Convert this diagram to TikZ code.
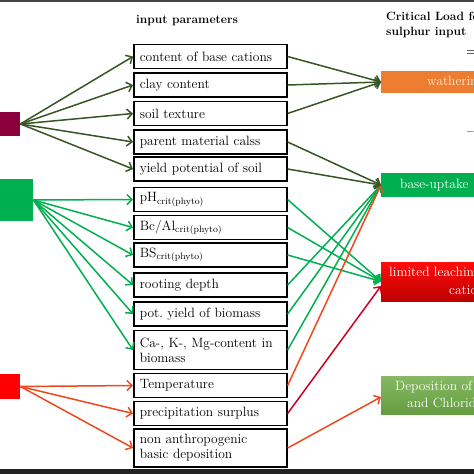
\documentclass[tikz,border=0pt]{standalone}
\usetikzlibrary{arrows.meta}
\definecolor{maroonc}{RGB}{139,0,58}
\definecolor{greenc}{RGB}{0,176,80}
\definecolor{redc}{RGB}{255,0,0}
\definecolor{olivec}{RGB}{55,86,35}
\definecolor{orangearr}{RGB}{240,72,30}
\definecolor{crimsonarr}{RGB}{205,0,30}
\definecolor{orangebox}{RGB}{237,125,49}
\definecolor{depgreen}{RGB}{112,173,71}
\definecolor{topbar}{RGB}{70,70,70}
\definecolor{botbar}{RGB}{35,35,35}
\frenchspacing
\begin{document}
\begin{tikzpicture}[x=1pt,y=-1pt,
  pbox/.style={draw=black, line width=1.6pt, fill=white, minimum width=153pt,
    minimum height=24pt, text width=141pt, inner xsep=6pt, inner ysep=1pt,
    align=left, anchor=west, font=\fontsize{13.5}{15}\selectfont},
  srcbox/.style={inner sep=0pt, anchor=west},
  rbox/.style={inner sep=0pt, anchor=west, minimum width=110pt},
  rtext/.style={inner sep=0pt, anchor=west, text=white, font=\fontsize{13.5}{15}\selectfont},
  arrbase/.style={line width=1.5pt, -{Straight Barb[length=5pt,width=10pt]}},
  arrA/.style={arrbase, draw=olivec},
  arrB/.style={arrbase, draw=greenc},
  arrC/.style={arrbase, draw=orangearr},
  arrD/.style={arrbase, draw=crimsonarr},
  heading/.style={inner sep=0pt, font=\fontsize{12}{14}\selectfont\bfseries}
]
\useasboundingbox (0,0) rectangle (474,474);
\clip (0,0) rectangle (474,474);
\fill[white] (0,0) rectangle (474,474);
\fill[topbar] (0,0) rectangle (474,2);
\fill[botbar] (0,469) rectangle (474,474);

% headings
\node[heading] (hin) at (187,21) {input parameters};
\node[heading, anchor=west] (hcl1) at (386,16) {Critical Load for};
\node[heading, anchor=west] (hcl2) at (386,32) {sulphur input};
\node[heading, anchor=west] (heq) at (466,53) {=};
\node[heading, anchor=west] (hmin) at (467,134) {--};

% source squares
\node[srcbox, fill=maroonc, minimum width=20pt, minimum height=24pt] (srcA) at (0,124) {};
\node[srcbox, fill=greenc, minimum width=33pt, minimum height=42pt] (srcB) at (0,200) {};
\node[srcbox, fill=redc, minimum width=20pt, minimum height=25pt] (srcC) at (0,386.5) {};

% input parameter boxes
\node[pbox] (p1) at (133,56.5) {content of base cations};
\node[pbox] (p2) at (133,85) {clay content};
\node[pbox] (p3) at (133,113.5) {soil texture};
\node[pbox] (p4) at (133,142) {parent material calss};
\node[pbox] (p5) at (133,169) {yield potential of soil};
\node[pbox] (p6) at (133,199.5) {pH\textsubscript{crit(phyto)}};
\node[pbox] (p7) at (133,227.5) {Bc/Al\textsubscript{crit(phyto)}};
\node[pbox] (p8) at (133,255) {BS\textsubscript{crit(phyto)}};
\node[pbox] (p9) at (133,285) {rooting depth};
\node[pbox] (p10) at (133,314) {pot. yield of biomass};
\node[pbox, minimum height=39pt] (p11) at (133,350) {Ca-, K-, Mg-content in\\biomass};
\node[pbox] (p12) at (133,385.5) {Temperature};
\node[pbox] (p13) at (133,413.5) {precipitation surplus};
\node[pbox, minimum height=38pt] (p14) at (133,448) {non anthropogenic\\basic deposition};

% right boxes
\node[rbox, fill=orangebox, minimum height=22pt] (wath) at (381,82) {};
\node[rbox, fill=greenc, minimum height=24pt] (upt) at (381,185) {};
\node[rbox, minimum height=39pt, top color=red!95!white, bottom color=red!75!black] (leach) at (381,281.5) {};
\node[rbox, minimum height=38pt, top color=depgreen!85!white, bottom color=depgreen!90!black] (dep) at (381,395) {};
\node[rtext, text=orange!15!white] (twath) at (427,82) {wathering};
\node[rtext] (tupt) at (400,185) {base-uptake};
\node[rtext] (tleach1) at (389,273) {limited leaching of base};
\node[rtext] (tleach2) at (449,290) {cations};
\node[rtext] (tdep1) at (395,387) {Deposition of};
\node[rtext] (tdep2) at (407,403) {and Chloride};
\coordinate (leachR) at (381,286);
\coordinate (deptip) at (381,397);

% left arrows
\foreach \t in {p1,p2,p3,p4,p5} \draw[arrA] (srcA.east) -- (\t.west);
\foreach \t in {p6,p7,p8,p9,p10,p11} \draw[arrB] (srcB.east) -- (\t.west);
\foreach \t in {p12,p13,p14} \draw[arrC] (srcC.east) -- (\t.west);

% right arrows
\foreach \s in {p6,p7,p8} \draw[arrB] (\s.east) -- (leach.west);
\foreach \s in {p9,p10,p11} \draw[arrB] (\s.east) -- (upt.west);
\draw[arrC] (p12.east) -- (upt.west);
\draw[arrD] (p13.east) -- (leachR);
\draw[arrC] (p14.east) -- (deptip);
\foreach \s in {p1,p2,p3} \draw[arrA] (\s.east) -- (wath.west);
\foreach \s in {p4,p5} \draw[arrA] (\s.east) -- (upt.west);
\end{tikzpicture}
\end{document}
